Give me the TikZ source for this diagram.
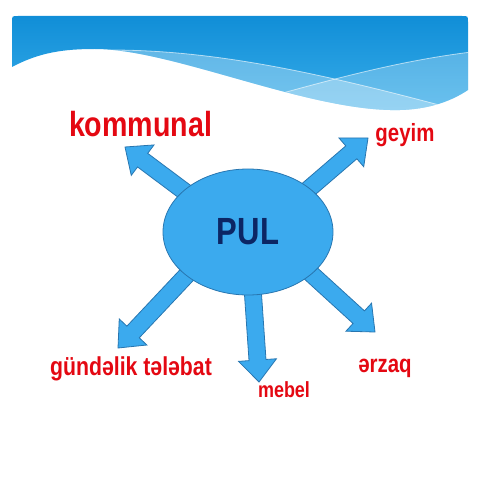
\documentclass[tikz,border=0pt]{standalone}
\usepackage{fontspec}
\usepackage{xcolor}
\usepackage{tikz}
\usetikzlibrary{shapes.geometric, calc, backgrounds}

\newfontfamily\labelfont[FakeStretch=0.82]{Liberation Sans}

\definecolor{pulblue}{RGB}{59,170,238}
\definecolor{pulline}{RGB}{40,118,176}
\definecolor{pulnavy}{RGB}{12,38,100}
\definecolor{labelred}{RGB}{228,8,18}
\definecolor{bannertop}{RGB}{14,140,214}
\definecolor{bannerlow}{RGB}{60,176,235}

% block arrow from #1 to the tip #2
\newcommand{\blockarrow}[2]{%
  \coordinate (bh) at ($(#2)!22bp!(#1)$);
  \filldraw[arrowbody] ($(#1)!8.5bp!90:(#2)$) -- ($(bh)!8.5bp!90:(#2)$)
    -- ($(bh)!19bp!90:(#2)$) -- (#2) -- ($(bh)!19bp!-90:(#2)$)
    -- ($(bh)!8.5bp!-90:(#2)$) -- ($(#1)!8.5bp!-90:(#2)$) -- cycle;}

\begin{document}
\begin{tikzpicture}[x=1bp, y=-1bp,
    arrowbody/.style={fill=pulblue, draw=pulline, line width=0.8bp, line join=miter},
    moneylabel/.style={text=labelred, inner sep=0pt, anchor=base,
      font=\labelfont\bfseries\fontsize{#1}{#1}\selectfont}]
      \useasboundingbox (0,0) rectangle (480,480);

      % Draw the wave banner at top
      \begin{scope}
        \clip (12,67) -- (12,22) .. controls (12,16) .. (18,16) -- (462,16)
          .. controls (468,16) .. (468,22) -- (468,90)
          .. controls (450,102) and (425,111) .. (390,110)
          .. controls (300,108) and (170,49) .. (95,49)
          .. controls (65,49) and (40,52) .. (12,67) -- cycle;
        \shade[top color=bannertop, bottom color=bannerlow] (0,10) rectangle (480,120);
        \fill[white, opacity=0.3] (110,50) .. controls (220,50) and (330,75) .. (480,116) -- (0,120) -- cycle;
        \fill[white, opacity=0.25] (250,102) .. controls (330,80) and (400,60) .. (480,51) -- (480,120) -- (250,120) -- cycle;
        \draw[white, opacity=0.6, line width=0.8bp] (110,50) .. controls (220,50) and (330,75) .. (480,116);
        \draw[white, opacity=0.6, line width=0.8bp] (250,102) .. controls (330,80) and (400,60) .. (480,51);
      \end{scope}

      % Central ellipse
      \node[ellipse, fill=pulblue, draw=pulline, line width=0.8bp,
        minimum width=170bp, minimum height=126bp, inner sep=0pt,
        text=pulnavy, font=\labelfont\bfseries\fontsize{38}{38}\selectfont] (pul) at (248,232) {PUL};

      % Arrow tips
      \coordinate (t1) at (125,147);
      \coordinate (t2) at (368,138);
      \coordinate (t3) at (118,348);
      \coordinate (t4) at (259,382);
      \coordinate (t5) at (375,332);

      % Draw arrows behind the ellipse
      \begin{scope}[on background layer]
        \foreach \a [count=\i] in {150,32,208,275,332} {
          \coordinate (s\i) at ($(pul.center)!0.6!(pul.\a)$);
          \blockarrow{s\i}{t\i}
        }
      \end{scope}

      % Labels
      \node[moneylabel=35] (kom) at (140.5,137) {kommunal};
      \node[moneylabel=25] (gey) at (405,142) {geyim};
      \node[moneylabel=26] (gun) at (131,375) {gündəlik tələbat};
      \node[moneylabel=22] (meb) at (284,397) {mebel};
      \node[moneylabel=25] (erz) at (385,372) {ərzaq};

    \end{tikzpicture}
\end{document}
